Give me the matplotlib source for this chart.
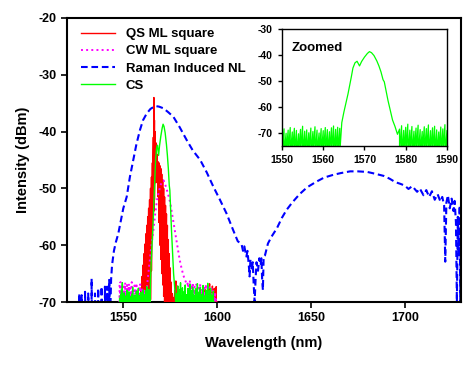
import numpy as np
import matplotlib
matplotlib.use('Agg')
import matplotlib.pyplot as plt

plt.rcParams['font.family'] = ['Liberation Sans', 'DejaVu Sans']
plt.rcParams['font.weight'] = 'bold'
plt.rcParams['axes.unicode_minus'] = False

# ---- data (wavelength in nm, intensity in dBm) ----
# QS ML square: dense spectrum, stored as upper / lower envelope per bin
qs_wl = [1558.5, 1559, 1559.5, 1560, 1560.5, 1561, 1561.5, 1562, 1562.5, 1563,
         1563.5, 1564, 1564.5, 1565, 1565.5, 1566, 1566.3, 1566.6, 1567, 1567.5,
         1568, 1568.5, 1569, 1569.5, 1570, 1570.5, 1571, 1571.5, 1572, 1572.5,
         1573, 1573.5, 1574, 1574.5, 1575, 1575.5, 1576, 1576.5]
qs_hi = [-70, -69.5, -67.5, -65.5, -63.5, -61.5, -59.8, -58, -56.5, -55,
         -53.5, -52, -50, -48, -45.5, -41, -34, -38, -40, -42,
         -44, -45.3, -45.5, -46, -46.5, -47.5, -48.5, -50, -51.5, -53,
         -54.5, -56.5, -59, -61.5, -64, -66.5, -68.5, -70]
qs_lo = [-70] * 12 + [-69.6, -64.5, -59, -55.5, -54, -52, -49, -48, -49, -51.5,
                      -56, -60, -62.5, -65, -67, -69] + [-70] * 10
qs_noise_start = 1577.0
qs_noise = [-69.2, -68.0, -66.3, -69.0, -67.2, -69.5, -69.8, -68.9, -69.6, -69.9,
            -69.3, -69.7, -68.8, -69.5, -69.9, -69.4, -69.8, -69.1, -69.6, -69.9,
            -69.2, -69.7, -69.4, -69.8, -69.5, -69.0, -69.7, -69.3, -69.9, -69.6,
            -69.1, -69.8, -69.4, -67.8, -69.6, -69.2, -67.5, -69.7, -66.8, -69.3,
            -69.0, -67.2, -69.5, -67.6, -68.4, -67.3, -70.0]

# CW ML square
cw_noise_left_start = 1548.0
cw_noise_left = [-67.0, -66.5, -68.2, -66.8, -69.0, -67.3, -66.6, -68.5, -67.0, -69.2,
                 -66.8, -67.6, -68.9, -66.5, -67.8, -69.0, -67.1, -68.4, -66.7, -67.9,
                 -68.8, -67.2, -66.9, -68.1, -67.5, -69.0, -67.8, -68.5, -68.0]
cw_peak_wl = [1562.5, 1563, 1564, 1565, 1566, 1567, 1568, 1569, 1570, 1571,
              1571.5, 1572, 1573, 1574, 1575, 1576, 1577, 1578, 1579, 1580,
              1581, 1582, 1583, 1584]
cw_peak_db = [-68, -66, -63, -60, -57.5, -54.5, -52, -50.5, -49.3, -48.8,
              -48.6, -49, -50, -51.2, -52.5, -54.5, -56.5, -58.5, -60.5, -62.5,
              -64, -65.3, -66.2, -67]
cw_noise_right_start = 1584.5
cw_noise_right = [-66.5, -67.8, -66.2, -68.3, -67.0, -66.6, -68.7, -67.3, -68.0, -66.9,
                  -67.6, -68.8, -67.1, -66.8, -68.2, -67.5, -69.0, -67.2, -68.4, -66.9,
                  -67.7, -68.6, -67.0, -68.1, -69.2, -67.4, -68.5, -67.9, -69.0, -68.3,
                  -69.4, -70.0]

# Raman induced NL
raman_wl = [1526.0, 1526.5, 1526.5, 1526.6, 1527.8, 1527.8, 1527.9, 1529.6, 1529.6, 1529.7,
            1531.3, 1531.3, 1531.4, 1533.1, 1533.1, 1533.2, 1534.9, 1534.9, 1535.0, 1536.6,
            1536.6, 1536.7, 1538.4, 1538.4, 1538.5, 1540.2, 1540.2, 1540.3, 1541.4, 1541.4,
            1541.5, 1542.5, 1542.5, 1542.6, 1543.2,
            1543.5, 1544, 1545, 1546, 1547.3, 1548.5, 1550, 1551.8, 1553.5, 1555.3,
            1557, 1558.9, 1560.5, 1562.5, 1564.5, 1567, 1569, 1571.4, 1574, 1576.7,
            1580, 1583.8, 1587, 1591, 1594.5, 1598, 1601.5, 1605, 1608.5, 1611,
            1613, 1613.8, 1614.5, 1615.6, 1616.2, 1617, 1617.3, 1617.8, 1618.5, 1619,
            1619.5, 1620, 1620.5, 1621, 1621.8, 1622.5, 1623.2, 1623.6, 1624, 1624.4,
            1624.8, 1625.5, 1626.5, 1627.1, 1629, 1631.9, 1634.5, 1637, 1640, 1644,
            1648, 1653, 1657, 1662, 1666, 1670.9, 1675, 1680, 1684, 1688.8,
            1692, 1695, 1697.7, 1700, 1702, 1704, 1706.6, 1708, 1710, 1711.5,
            1713, 1714.5, 1716, 1717.5, 1719, 1720, 1721, 1721.6, 1722.2, 1723,
            1724, 1725, 1726, 1726.6, 1727.3, 1727.8, 1728.3, 1728.8, 1729.3, 1729.6,
            1730]
raman_db = [-70, -70, -68.5, -70, -70, -68.8, -70, -70, -68.2, -70,
            -70, -68.5, -70, -70, -65.9, -70, -70, -68.5, -70, -70,
            -67.6, -70, -70, -67.3, -70, -70, -67.3, -70, -70, -67.3,
            -70, -70, -66.1, -70, -70,
            -66, -63.5, -61, -59.5, -58, -56, -53.5, -51.5, -48, -45,
            -42.2, -39.7, -38, -36.8, -36, -35.5, -35.6, -35.9, -36.6, -37.4,
            -39.2, -41.5, -43.3, -45, -47.2, -49.7, -52, -54.4, -57.3, -59.3,
            -59.8, -61, -60.2, -62, -61, -64, -65.5, -62.5, -64.5, -63,
            -67, -70, -66, -63, -64.5, -62.3, -63.5, -62.3, -66, -67.9,
            -62, -61.8, -60.5, -59.7, -58.5, -57, -55.2, -53.8, -52.5, -51,
            -49.8, -48.8, -48.1, -47.6, -47.3, -47, -47, -47.1, -47.4, -47.8,
            -48.3, -48.9, -49.2, -49.5, -50.1, -49.6, -50.6, -50, -51.2, -50.3,
            -51.5, -50.5, -52, -51, -52.3, -51.5, -53, -62.9, -52.5, -51.2,
            -53.5, -51.8, -54, -52.2, -56, -70, -55, -62, -53, -70,
            -55]

# CS
cs_noise_left_start = 1548.0
cs_noise_left = [-69.5, -68.8, -67.8, -66.6, -69.2, -68.4, -70.1, -68.9, -67.9, -69.6,
                 -68.2, -69.0, -70.3, -68.6, -67.4, -69.3, -68.8, -69.9, -68.1, -69.4,
                 -67.6, -68.9, -70.0, -68.3, -69.1, -67.9, -68.7, -69.5, -68.0, -67.3,
                 -68.6, -67.8, -68.2]
cs_peak_wl = [1564.5, 1565, 1565.5, 1566, 1566.5, 1566.8, 1567.2, 1567.7, 1568.2, 1568.8,
              1569.3, 1570, 1570.7, 1571.2, 1571.7, 1572.3, 1573, 1573.5, 1574, 1574.5,
              1574.8, 1575.2, 1575.7, 1576.3, 1576.8, 1577.4, 1578]
cs_peak_db = [-66, -62, -58.5, -55, -51, -48.5, -45, -43, -42.4, -44.2,
              -42.5, -40.8, -39.4, -38.7, -39.1, -40.2, -42.3, -44.2, -46.5, -49.5,
              -50.3, -53.5, -57.5, -61.5, -65, -67.5, -70.5]
cs_noise_right_start = 1578.5
cs_noise_right = [-68.5, -67.2, -69.0, -67.8, -66.6, -68.9, -67.5, -69.3, -68.1, -67.0,
                  -68.7, -69.4, -67.6, -68.3, -66.9, -69.1, -68.0, -67.4, -68.8, -69.6,
                  -67.7, -68.4, -66.8, -69.0, -68.2, -67.5, -69.3, -68.6, -67.1, -68.9,
                  -69.5, -67.9, -68.3, -66.7, -69.2, -68.0, -67.6, -68.8, -69.7, -68.1,
                  -70.0]

BIN = 0.5  # OSA sampling step of the noise floor bins


def envelope(wl, hi, lo):
    # draw each bin as a vertical stroke from its max to its min
    x = np.repeat(np.asarray(wl, float), 2)
    y = np.column_stack([hi, lo]).ravel()
    return x, y


def noise_bins(start, tops, floor):
    wl = start + BIN * np.arange(len(tops))
    return envelope(wl, tops, [floor] * len(tops))


def join(*parts):
    return (np.concatenate([p[0] for p in parts]),
            np.concatenate([p[1] for p in parts]))


qs_x, qs_y = join(envelope(qs_wl, qs_hi, qs_lo),
                  noise_bins(qs_noise_start, qs_noise, -70))
cw_x, cw_y = join(noise_bins(cw_noise_left_start, cw_noise_left, -70),
                  (np.array(cw_peak_wl, float), np.array(cw_peak_db, float)),
                  noise_bins(cw_noise_right_start, cw_noise_right, -70))
cs_x, cs_y = join(noise_bins(cs_noise_left_start, cs_noise_left, -78),
                  (np.array(cs_peak_wl, float), np.array(cs_peak_db, float)),
                  noise_bins(cs_noise_right_start, cs_noise_right, -78))

fig = plt.figure(figsize=(4.74, 3.65), dpi=100)
ax = fig.add_axes([0.1414, 0.1726, 0.8312, 0.7781])

ax.plot(raman_wl, raman_db, color='#0000ff', lw=1.5, dashes=(3.2, 1.8),
        label='Raman Induced NL', zorder=2)
ax.plot(qs_x, qs_y, color='#ff0000', lw=1.0, label='QS ML square', zorder=3)
ax.plot(cw_x, cw_y, color='#ff00ff', lw=1.4, ls=':', label='CW ML square', zorder=4)
ax.plot(cs_x, cs_y, color='#00ff00', lw=1.0, label='CS', zorder=5)

ax.set_xlim(1520, 1730)
ax.set_ylim(-70, -20)
ax.set_xticks([1550, 1600, 1650, 1700])
ax.set_yticks([-70, -60, -50, -40, -30, -20])
ax.tick_params(direction='out', length=4, width=1.2, labelsize=9)
for s in ax.spines.values():
    s.set_linewidth(1.5)
ax.set_xlabel('Wavelength (nm)', fontsize=10.5, fontweight='bold', labelpad=8)
ax.set_ylabel('Intensity (dBm)', fontsize=10.5, fontweight='bold', labelpad=6)

h, l = ax.get_legend_handles_labels()
order = [1, 2, 0, 3]
ax.legend([h[i] for i in order], [l[i] for i in order], loc='upper left',
          bbox_to_anchor=(0.01, 1.0), frameon=False, fontsize=9.5,
          handlelength=2.6, labelspacing=0.38, handletextpad=0.8,
          borderaxespad=0.35)

# inset
ins = fig.add_axes([0.5949, 0.6, 0.3481, 0.3205])
ins.plot(cs_x, cs_y, color='#00ff00', lw=0.9)
ins.set_xlim(1550, 1590)
ins.set_ylim(-75, -30)
ins.set_xticks([1550, 1560, 1570, 1580, 1590])
ins.set_yticks([-70, -60, -50, -40, -30])
ins.tick_params(direction='out', length=3, width=1.0, labelsize=7.5)
for s in ins.spines.values():
    s.set_linewidth(1.0)
ins.text(0.06, 0.84, 'Zoomed', transform=ins.transAxes, fontsize=9.5,
         fontweight='bold', va='center', ha='left')

fig.savefig('out.png', dpi=100)
